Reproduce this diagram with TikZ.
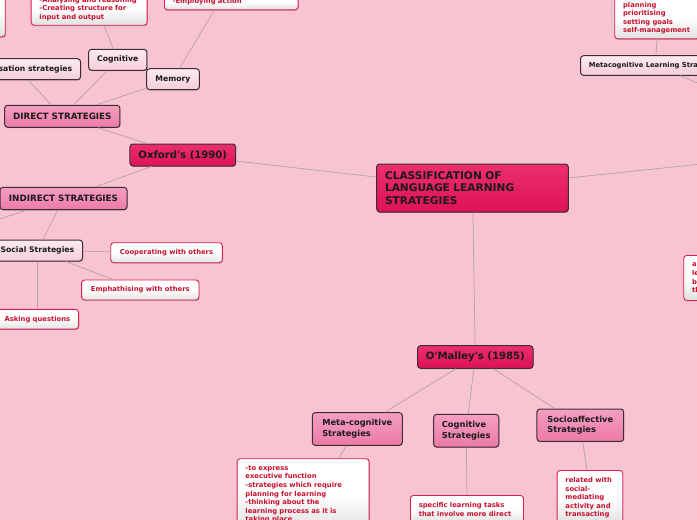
\documentclass[tikz,border=0pt]{standalone}
\usepackage{fontspec}
\setmainfont{DejaVu Sans}[Ligatures=TeXOff]
\usetikzlibrary{shadows}
\definecolor{bgc}{HTML}{F9C4D1}
\definecolor{crimT}{HTML}{EC2E6C}
\definecolor{crimB}{HTML}{DE1257}
\definecolor{pinkT}{HTML}{F59FC0}
\definecolor{pinkB}{HTML}{EC7AA5}
\definecolor{lightT}{HTML}{FDEAF1}
\definecolor{lightB}{HTML}{F5CDDA}
\definecolor{bdark}{HTML}{3A2E34}
\definecolor{redb}{HTML}{D81E4D}
\definecolor{redt}{HTML}{C8102E}
\definecolor{txt}{HTML}{1A1A1A}
\definecolor{connc}{HTML}{B8A2AB}
\hyphenpenalty=10000
\exhyphenpenalty=10000
\tikzset{
  box/.style={rounded corners=3pt, inner xsep=8.3pt, inner ysep=3pt, align=left,
     drop shadow={shadow xshift=0.5pt, shadow yshift=-0.8pt, opacity=0.22, fill=black}},
  mainbox/.style={box, draw=bdark, line width=1pt, top color=crimT, bottom color=crimB,
     text=txt, font=\bfseries\fontsize{10.1}{12.2}\selectfont},
  branchbox/.style={box, draw=bdark, line width=1pt, top color=pinkT, bottom color=pinkB,
     text=txt, font=\bfseries\fontsize{8.75}{10.6}\selectfont},
  subbox/.style={box, draw=bdark, line width=1pt, top color=pinkT, bottom color=pinkB,
     text=txt, font=\bfseries\fontsize{8.3}{10.6}\selectfont},
  leafbox/.style={box, draw=bdark, line width=1pt, top color=lightT, bottom color=lightB,
     text=txt, font=\bfseries\fontsize{7.7}{9.5}\selectfont},
  smallleaf/.style={leafbox, font=\bfseries\fontsize{6.8}{8.6}\selectfont},
  note/.style={box, draw=redb, line width=0.9pt, top color=white, bottom color=black!12,
     middle color=white, text=redt, font=\bfseries\fontsize{6.8}{8.6}\selectfont},
  conn/.style={draw=connc, line width=0.75pt}
}
\begin{document}
\begin{tikzpicture}[x=1pt,y=-1pt]
\fill[bgc] (0,0) rectangle (697,520);
\useasboundingbox (0,0) rectangle (697,520);

% off-page ends
\coordinate (offR) at (800,153.7);
\coordinate (offR2) at (747.75,103.5);
\coordinate (offL) at (-40,231.6);

% main
\node[mainbox, font=\bfseries\fontsize{10.6}{12.2}\selectfont, text width=175pt,
  minimum height=48pt] (cls) at (472.5,188) {CLASSIFICATION OF\\LANGUAGE LEARNING\\STRATEGIES};
\node[mainbox, minimum width=105.7pt, minimum height=22pt] (ox) at (182.8,155) {Oxford's (1990)};
\node[mainbox, minimum width=115.3pt, minimum height=22.6pt] (om) at (475.3,357) {O'Malley's (1985)};

% Oxford branch
\node[branchbox, minimum width=115.3pt, minimum height=22pt] (dir) at (62.3,116.3) {DIRECT STRATEGIES};
\node[branchbox, minimum width=127pt, minimum height=22.4pt] (ind) at (63.5,198.5) {INDIRECT STRATEGIES};
\node[leafbox, minimum width=58.3pt, minimum height=21pt] (cog) at (117.8,59.8) {Cognitive};
\node[leafbox, minimum width=52.6pt, minimum height=21pt] (mem) at (173,79.2) {Memory};
\node[leafbox, anchor=east, minimum height=21pt] (comp) at (81,69.2) {Compensation strategies};
\node[leafbox, anchor=east, minimum height=21pt] (soc) at (83,250.5) {Social Strategies};

\node[note, minimum width=111.6pt, minimum height=20pt] (coop) at (166.5,252.7) {Cooperating with others};
\node[note, minimum width=117.3pt, minimum height=20pt] (emph) at (140.3,290) {Emphathising with others};
\node[note, anchor=east, minimum height=19.7pt] (ask) at (79,319.2) {Asking questions};

\node[note, anchor=south east, minimum width=30pt, minimum height=50pt] (tl) at (5.7,37.3) {};
\node[note, anchor=south west, text width=99.4pt, inner ysep=4.5pt] (tcog) at (30.7,25.7)
  {-Analysing and reasoning\\-Creating structure for\\input and output};
\node[note, anchor=south west, text width=117pt, inner ysep=4.5pt] (tmem) at (164,10.3)
  {-Employing action};

% right side
\node[note, anchor=south west, text width=68pt, inner ysep=4.5pt] (ttr) at (614.3,39.3)
  {planning\\prioritising\\setting goals\\self-management};
\node[smallleaf, anchor=west, minimum height=19.6pt] (meta) at (580,65.5) {Metacognitive Learning Strategies};
\node[note, anchor=north west, text width=60pt, minimum height=45pt] (rbox) at (683.3,255)
  {a\\le\\b\\th};

% O'Malley branch
\node[subbox, minimum width=90pt, minimum height=32.6pt] (mcs) at (357.3,429) {Meta-cognitive\\Strategies};
\node[subbox, minimum width=65pt, minimum height=32.7pt] (cs) at (466.2,430.7) {Cognitive\\Strategies};
\node[subbox, minimum width=86.7pt, minimum height=32.4pt] (sa) at (580.3,425.2) {Socioaffective\\Strategies};

\node[note, anchor=north west, text width=115.4pt, inner ysep=6.8pt] (mcstext) at (236.7,458.3)
  {-to express\\executive function\\-strategies which require\\planning for learning\\-thinking about the\\learning process as it is\\ taking place};
\node[note, anchor=north west, text width=96.4pt, inner ysep=6.8pt] (cstext) at (410,495)
  {specific learning tasks\\that involve more direct};
\node[note, anchor=north west, text width=49pt, inner ysep=6.8pt] (satext) at (556.7,470)
  {related with\\social-\\mediating\\activity and\\transacting};

% connectors
\draw[conn] (ox) -- (cls);
\draw[conn] (cls) -- (offR);
\draw[conn] (cls) -- (om);
\draw[conn] (ox) -- (dir);
\draw[conn] (ox) -- (ind);
\draw[conn] (dir) -- (comp);
\draw[conn] (dir) -- (cog);
\draw[conn] (dir) -- (mem);
\draw[conn] (cog) -- ([xshift=15pt]tcog.south);
\draw[conn] (mem) -- ([xshift=-17pt]tmem.south);
\draw[conn] (ind) -- (offL);
\draw[conn] (ind) -- (soc);
\draw[conn] (soc) -- (coop);
\draw[conn] (soc) -- (emph);
\draw[conn] (soc) -- (ask);
\draw[conn] (meta) -- (ttr.south);
\draw[conn] (meta) -- (offR2);
\draw[conn] (om) -- (mcs);
\draw[conn] (om) -- (cs);
\draw[conn] (om) -- (sa);
\draw[conn] (mcs) -- ([xshift=35.5pt]mcstext.north);
\draw[conn] (cs) -- (cstext.north);
\draw[conn] (sa) -- ([xshift=-3pt]satext.north);
\end{tikzpicture}
\end{document}
